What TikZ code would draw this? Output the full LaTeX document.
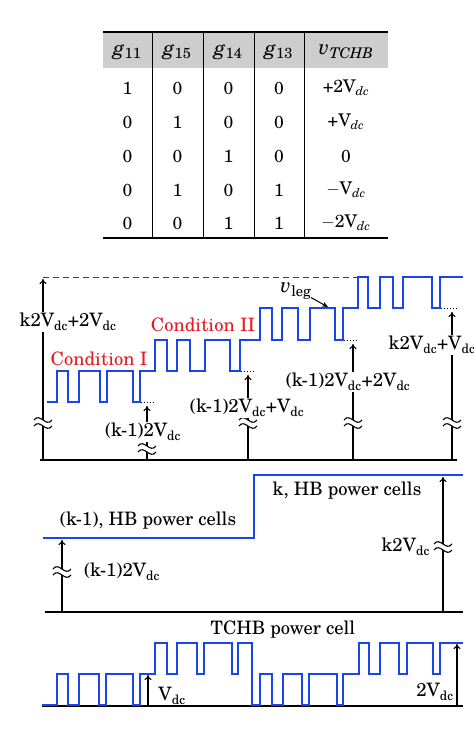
\documentclass[tikz,border=0pt]{standalone}
\usepackage{fontspec}
\setmainfont{TeX Gyre Schola}
\usetikzlibrary{arrows.meta}
\definecolor{wblue}{RGB}{25,70,235}
\definecolor{cred}{RGB}{225,30,35}
\definecolor{hgray}{RGB}{205,205,205}
\newcommand{\Vdc}{V\textsubscript{dc}}
\newcommand{\Vdci}{V\textsubscript{\textit{dc}}}
\tikzset{
  wave/.style={draw=wblue,line width=1.6pt,line join=miter},
  axisline/.style={line width=1.5pt},
  meas/.style={line width=1.1pt,-{To[length=5pt,width=7pt]}},
  lbl/.style={font=\fontsize{18.5}{22}\selectfont,inner sep=1pt},
  wlbl/.style={lbl,fill=white},
  tcell/.style={font=\fontsize{17.5}{21}\selectfont,inner sep=0pt},
  hcell/.style={font=\fontsize{21}{24}\selectfont,inner sep=0pt},
  dotmark/.style={line width=1pt,dotted},
  brk/.pic={
    \fill[white] (-9,-3) .. controls (-3,-11) and (3,5) .. (9,-3) -- (9,3) .. controls (3,11) and (-3,-5) .. (-9,3) -- cycle;
    \draw[line width=1.1pt] (-9,-3) .. controls (-3,-11) and (3,5) .. (9,-3);
    \draw[line width=1.1pt] (-9,3) .. controls (-3,-5) and (3,11) .. (9,3);
  }
}
\begin{document}
\begin{tikzpicture}[x=1pt,y=-1pt]
\useasboundingbox[fill=white] (0,0) rectangle (474,740);
% ---------------- table ----------------
\fill[hgray] (103,32) rectangle (388,68);
\draw[line width=1.2pt] (103,32) -- (388,32);
\draw[line width=1.2pt] (103,238) -- (388,238);
\foreach \x in {152,203,254,304}{\draw[line width=0.8pt] (\x,32) -- (\x,238);}
\node[hcell] (h1) at (127.5,52) {\textit{g}\textsubscript{11}};
\node[hcell] (h2) at (177.5,52) {\textit{g}\textsubscript{15}};
\node[hcell] (h3) at (228.5,52) {\textit{g}\textsubscript{14}};
\node[hcell] (h4) at (279,52) {\textit{g}\textsubscript{13}};
\node[hcell] (h5) at (346,52) {\textit{v}\textsubscript{\textit{TCHB}}};
\node[tcell] (r1a) at (127.5,88) {1};
\node[tcell] (r1b) at (177.5,88) {0};
\node[tcell] (r1c) at (228.5,88) {0};
\node[tcell] (r1d) at (279,88) {0};
\node[tcell] (r1e) at (346,88) {+2\Vdci};
\node[tcell] (r2a) at (127.5,122) {0};
\node[tcell] (r2b) at (177.5,122) {1};
\node[tcell] (r2c) at (228.5,122) {0};
\node[tcell] (r2d) at (279,122) {0};
\node[tcell] (r2e) at (346,122) {+\Vdci};
\node[tcell] (r3a) at (127.5,156) {0};
\node[tcell] (r3b) at (177.5,156) {0};
\node[tcell] (r3c) at (228.5,156) {1};
\node[tcell] (r3d) at (279,156) {0};
\node[tcell] (r3e) at (346,156) {0};
\node[tcell] (r4a) at (127.5,190) {0};
\node[tcell] (r4b) at (177.5,190) {1};
\node[tcell] (r4c) at (228.5,190) {0};
\node[tcell] (r4d) at (279,190) {1};
\node[tcell] (r4e) at (346,190) {$-$\Vdci};
\node[tcell] (r5a) at (127.5,223) {0};
\node[tcell] (r5b) at (177.5,223) {0};
\node[tcell] (r5c) at (228.5,223) {1};
\node[tcell] (r5d) at (279,223) {1};
\node[tcell] (r5e) at (346,223) {$-$2\Vdci};
% ---------------- panel 1 ----------------
\draw[axisline] (40,460) -- (457,460);
\draw[line width=0.8pt,black!75,dash pattern=on 6pt off 4pt] (43,277) -- (358,277);
\draw[wave] (47,402) -| (57,371) -| (68,402) -| (79,371) -| (100,402) -| (107,371) -| (133,402) -| (140,371)
  -| (155,340) -| (167,371) -| (177,340) -| (190,371) -| (205,340) -| (230,371) -| (240,340)
  -| (260,308) -| (272,340) -| (282,308) -| (298,340) -| (310,308) -| (335,340) -| (343,308)
  -| (358,277) -| (368,308) -| (380,277) -| (393,308) -| (403,277) -| (432,308) -| (440,277) -- (463,277);
\draw[dotmark] (141,402) -- (154,402);
\draw[dotmark] (241,371) -- (254,371);
\draw[dotmark] (344,340) -- (357,340);
\draw[dotmark] (441,308) -- (459,308);
% measurement arrows
\coordinate (p0b) at (43,460);  \coordinate (p0t) at (43,279);
\coordinate (p1b) at (147,460); \coordinate (p1t) at (147,406);
\coordinate (p2b) at (248,460); \coordinate (p2t) at (248,375);
\coordinate (p3b) at (353,460); \coordinate (p3t) at (353,344);
\coordinate (p4b) at (452,460); \coordinate (p4t) at (452,312);
\draw[meas] (p0b) -- (p0t);
\draw[meas] (p1b) -- (p1t);
\draw[meas] (p2b) -- (p2t);
\draw[meas] (p3b) -- (p3t);
\draw[meas] (p4b) -- (p4t);
\pic at (43,423) {brk};
\pic at (147,449) {brk};
\pic at (248,423) {brk};
\pic at (353,423) {brk};
\pic at (452,423) {brk};
\node[wlbl] (l0) at (68,322) {k2\Vdc+2\Vdc};
\node[wlbl] (l1) at (143,432) {(k-1)2\Vdc};
\node[wlbl] (l2) at (247,408) {(k-1)2\Vdc+\Vdc};
\node[wlbl] (l3) at (348,382) {(k-1)2\Vdc+2\Vdc};
\node[wlbl] (l4) at (432,345) {k2\Vdc+\Vdc};
\node[lbl,text=cred] (c1) at (99,359) {Condition I};
\node[lbl,text=cred] (c2) at (203,325) {Condition II};
\node[lbl] (vleg) at (296,291) {\fontsize{21}{24}\selectfont\textit{v}\textsubscript{leg}};
\coordinate (vlegtip) at (328,307);
\draw[line width=1pt,-{Stealth[length=6pt,width=5pt]}] (vleg.south east) ++(-2,-3) -- (vlegtip);
% ---------------- panel 2 ----------------
\draw[axisline] (45,612) -- (463,612);
\draw[wave] (43,538) -| (254,475) -- (463,475);
\coordinate (q1b) at (62,612);  \coordinate (q1t) at (62,540);
\coordinate (q2b) at (443,612); \coordinate (q2t) at (443,477);
\draw[meas] (q1b) -- (q1t);
\draw[meas] (q2b) -- (q2t);
\pic at (62,572) {brk};
\pic at (443,547) {brk};
\node[lbl] (m1) at (122,572) {(k-1)2\Vdc};
\node[lbl,anchor=east] (m2) at (431,547) {k2\Vdc};
\node[lbl] (m3) at (148,521) {(k-1), HB power cells};
\node[lbl] (m4) at (347,491) {k, HB power cells};
% ---------------- panel 3 ----------------
\draw[axisline] (42,706) -- (463,706);
\draw[wave] (42,705) -| (57,674) -| (68,705) -| (79,674) -| (99,705) -| (106,674) -| (133,705) -| (140,674)
  -| (155,643) -| (167,674) -| (177,643) -| (197,674) -| (204,643) -| (232,674) -| (238,643)
  -| (252,705) -| (260,674) -| (272,705) -| (283,674) -| (302,705) -| (309,674) -| (337,705) -| (343,674)
  -| (359,643) -| (369,674) -| (380,643) -| (399,674) -| (407,643) -| (433,674) -| (440,643) -- (463,643);
\coordinate (s1b) at (148,706); \coordinate (s1t) at (148,675);
\coordinate (s2b) at (457,706); \coordinate (s2t) at (457,644);
\draw[meas] (s1b) -- (s1t);
\draw[meas] (s2b) -- (s2t);
\node[lbl] (n1) at (172,696) {\Vdc};
\node[lbl] (n2) at (435,692) {2\Vdc};
\node[lbl] (n3) at (283,630) {TCHB power cell};
\end{tikzpicture}
\end{document}
